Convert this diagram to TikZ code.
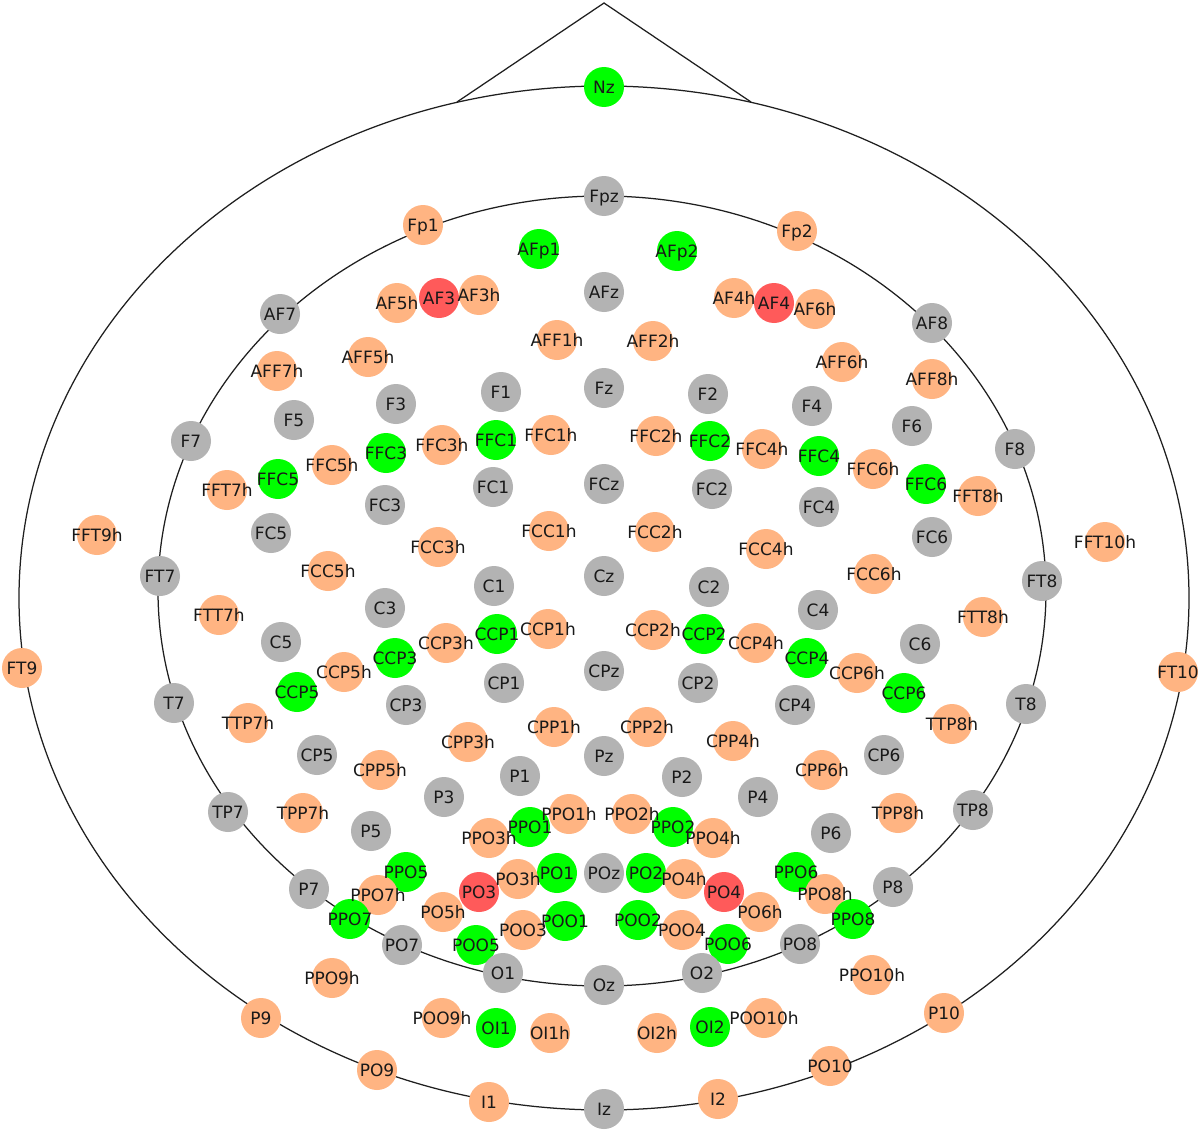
\documentclass[tikz,border=0pt]{standalone}
\usepackage{fontspec}
\setmainfont{DejaVu Sans}
\definecolor{cg}{HTML}{B3B3B3}
\definecolor{co}{HTML}{FFB482}
\definecolor{cn}{HTML}{00FF00}
\definecolor{cr}{HTML}{FF5A5A}
\def\elist{Nz/604/87/n, Fpz/604/196/g, Fp1/423/225/o, Fp2/797/231/o,
AFp1/539/249/n, AFp2/677/251/n, AFz/604/292/g, AF7/280/314/g,
AF5h/397/303/o, AF3/439/298/r, AF3h/479/295/o, AF4h/734/298/o, AF4/774/303/r, AF6h/815/309/o, AF8/932/323/g,
AFF1h/557/340/o, AFF2h/653/341/o, AFF5h/368/357/o, AFF6h/842/362/o, AFF7h/277/371/o, AFF8h/932/379/o,
F1/501/392/g, Fz/604/388/g, F2/708/394/g, F3/396/404/g, F4/812/406/g, F5/294/420/g, F6/912/426/g, F7/191/441/g, F8/1015/449/g,
FFC1/496/440/n, FFC1h/551/435/o, FFC2h/656/436/o, FFC2/710/441/n, FFC3h/442/445/o, FFC3/386/453/n, FFC4h/762/449/o, FFC4/819/456/n,
FFC5h/332/465/o, FFC5/278/479/n, FFC6h/873/469/o, FFC6/926/484/n, FFT7h/227/490/o, FFT8h/978/496/o, FFT9h/97/535/o, FFT10h/1105/542/o,
FC1/493/487/g, FCz/604/484/g, FC2/712/489/g, FC3/385/505/g, FC4/819/507/g, FC5/271/533/g, FC6/932/537/g,
FCC1h/549/531/o, FCC2h/655/532/o, FCC3h/438/547/o, FCC4h/766/549/o, FCC5h/328/571/o, FCC6h/874/574/o,
FT7/160/576/g, FT8/1042/581/g, FTT7h/219/615/o, FTT8h/983/617/o,
Cz/604/576/g, C1/494/586/g, C2/709/587/g, C3/385/608/g, C4/818/610/g, C5/281/642/g, C6/920/644/g,
CCP1/497/634/n, CCP1h/548/629/o, CCP2h/653/630/o, CCP2/704/634/n, CCP3h/446/643/o, CCP4h/756/643/o, CCP3/395/658/n, CCP4/807/658/n,
CCP5h/344/672/o, CCP6h/857/673/o, CCP5/297/692/n, CCP6/904/693/n, FT9/22/668/o, FT10/1178/672/o,
T7/174/703/g, T8/1026/704/g, TTP7h/248/723/o, TTP8h/952/724/o,
CPz/604/671/g, CP1/504/683/g, CP2/698/683/g, CP3/406/705/g, CP4/795/705/g, CP5/317/755/g, CP6/884/755/g,
CPP1h/554/727/o, CPP2h/647/727/o, CPP3h/468/742/o, CPP4h/733/741/o, CPP5h/380/770/o, CPP6h/822/770/o,
Pz/604/756/g, P1/520/776/g, P2/682/777/g, P3/444/797/g, P4/758/797/g, P5/371/831/g, P6/831/833/g,
TP7/228/812/g, TP8/973/810/g, TPP7h/303/813/o, TPP8h/898/813/o,
PPO1h/569/814/o, PPO2h/632/814/o, PPO1/530/827/n, PPO2/673/827/n, PPO3h/489/838/o, PPO4h/713/838/o,
PPO5/406/872/n, PPO6/796/872/n, PPO7h/378/895/o, PPO8h/825/894/o, PPO7/350/919/n, PPO8/853/919/n,
P7/309/889/g, P8/893/887/g,
PO1/557/873/n, POz/604/873/g, PO2/646/873/n, PO3h/518/879/o, PO4h/684/879/o, PO3/479/892/r, PO4/724/892/r,
PO5h/443/912/o, PO6h/760/912/o, POO1/565/921/n, POO2/638/920/n, POO3/523/930/o, POO4/682/930/o,
POO5/476/945/n, POO6/728/944/n, PO7/402/945/g, PO8/800/944/g,
O1/503/973/g, Oz/604/985/g, O2/702/973/g, PPO9h/332/978/o, PPO10h/872/975/o,
POO9h/442/1018/o, POO10h/764/1018/o, OI1/496/1028/n, OI1h/550/1033/o, OI2h/657/1033/o, OI2/710/1027/n,
P9/261/1018/o, P10/944/1013/o, PO9/377/1070/o, PO10/830/1066/o, I1/489/1102/o, Iz/604/1109/g, I2/718/1099/o}
\begin{document}
\begin{tikzpicture}[x=1pt,y=-1pt,
  elec/.style={circle,minimum size=40pt,inner sep=0pt,draw=none},
  lbl/.style={inner sep=0pt,anchor=base,font=\fontsize{17}{19}\selectfont,text=black!90},
  headline/.style={draw=black!88,line width=1.25pt}]
\useasboundingbox (0,0) rectangle (1200,1132);
\fill[white] (0,0) rectangle (1200,1132);
% head outlines
\draw[headline] (604,598) ellipse [x radius=585, y radius=512];
\draw[headline] (602,591) ellipse [x radius=444, y radius=395];
\coordinate (noseL) at (457,102);
\coordinate (noseT) at (604,3);
\coordinate (noseR) at (751,102);
\draw[headline,line join=miter] (noseL) -- (noseT) -- (noseR);
% electrodes
\foreach \n/\px/\py/\col in \elist {
  \node[elec,fill=c\col] (\n) at (\px,\py) {};
}
\foreach \n/\px/\py/\col in \elist {
  \node[lbl] (t-\n) at ([yshift=-6.2pt]\n.center) {\n};
}
\end{tikzpicture}
\end{document}
